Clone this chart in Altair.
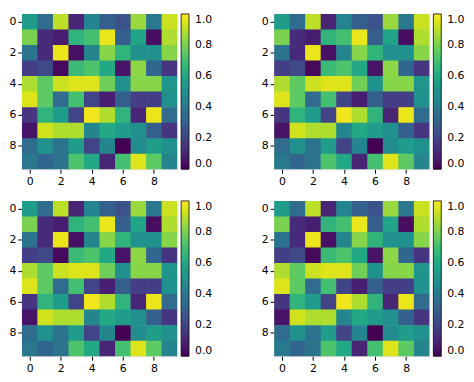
import altair as alt
import pandas as pd

rows = [
    [0.55, 0.35, 0.90, 0.10, 0.45, 0.30, 0.25, 0.85, 0.40, 0.92],
    [0.80, 0.12, 0.08, 0.65, 0.70, 0.97, 0.30, 0.58, 0.03, 0.88],
    [0.38, 0.12, 0.97, 0.04, 0.45, 0.82, 0.65, 0.50, 0.50, 0.82],
    [0.18, 0.22, 0.02, 0.68, 0.72, 0.60, 0.05, 0.83, 0.33, 0.15],
    [0.88, 0.75, 0.92, 0.95, 0.95, 0.78, 0.50, 0.82, 0.82, 0.52],
    [0.95, 0.75, 0.35, 0.70, 0.20, 0.08, 0.30, 0.18, 0.18, 0.50],
    [0.15, 0.65, 0.55, 0.20, 0.98, 0.88, 0.65, 0.10, 0.97, 0.35],
    [0.05, 0.93, 0.88, 0.88, 0.45, 0.60, 0.55, 0.50, 0.30, 0.15],
    [0.35, 0.50, 0.38, 0.55, 0.20, 0.45, 0.00, 0.48, 0.55, 0.50],
    [0.40, 0.33, 0.38, 0.72, 0.60, 0.10, 0.70, 0.95, 0.75, 0.45],
]
tick_values = [0, 2, 4, 6, 8]
legend_values = [0.0, 0.2, 0.4, 0.6, 0.8, 1.0]

records = []
for r, row in enumerate(rows):
    for c, v in enumerate(row):
        records.append({"row": r, "col": c, "value": v})
df = pd.DataFrame(records)

SIZE = 157


def panel():
    axis_common = dict(values=tick_values, title=None, grid=False, domain=False,
                       labelFlush=False, tickColor="black", tickSize=4,
                       labelColor="black", labelFontSize=11, labelPadding=2)
    cscale = alt.Scale(scheme="viridis", domain=[0, 1])
    return alt.Chart(df).transform_calculate(
        x0="datum.col - 0.5", x1="datum.col + 0.5",
        y0="datum.row - 0.5", y1="datum.row + 0.5",
    ).mark_rect(x2Offset=0.7, y2Offset=0.7, clip=True).encode(
        x=alt.X("x0:Q", scale=alt.Scale(domain=[-0.5, 9.5], nice=False, zero=False),
                axis=alt.Axis(**axis_common)),
        x2="x1:Q",
        y=alt.Y("y0:Q", scale=alt.Scale(domain=[-0.5, 9.5], nice=False, zero=False, reverse=True),
                axis=alt.Axis(**axis_common)),
        y2="y1:Q",
        color=alt.Color("value:Q", scale=cscale,
                        legend=alt.Legend(title=None, values=legend_values, format=".1f",
                                          gradientLength=SIZE, gradientThickness=8,
                                          gradientStrokeColor="black", gradientStrokeWidth=0.8,
                                          offset=4, padding=0, labelFontSize=11,
                                          labelColor="black", labelOffset=6,
                                          direction="vertical", orient="right")),
    ).properties(width=SIZE, height=SIZE)


top = alt.hconcat(panel(), panel(), spacing=47).resolve_scale(color="independent")
bottom = alt.hconcat(panel(), panel(), spacing=47).resolve_scale(color="independent")
chart = alt.vconcat(top, bottom, spacing=13).resolve_scale(color="independent").configure_view(
    stroke="black", strokeWidth=1
).configure(font="DejaVu Sans").properties(padding={"left": 0, "top": 3, "right": 0, "bottom": 0})

chart.save("out.html", embed_options={"renderer": "svg", "actions": False})
